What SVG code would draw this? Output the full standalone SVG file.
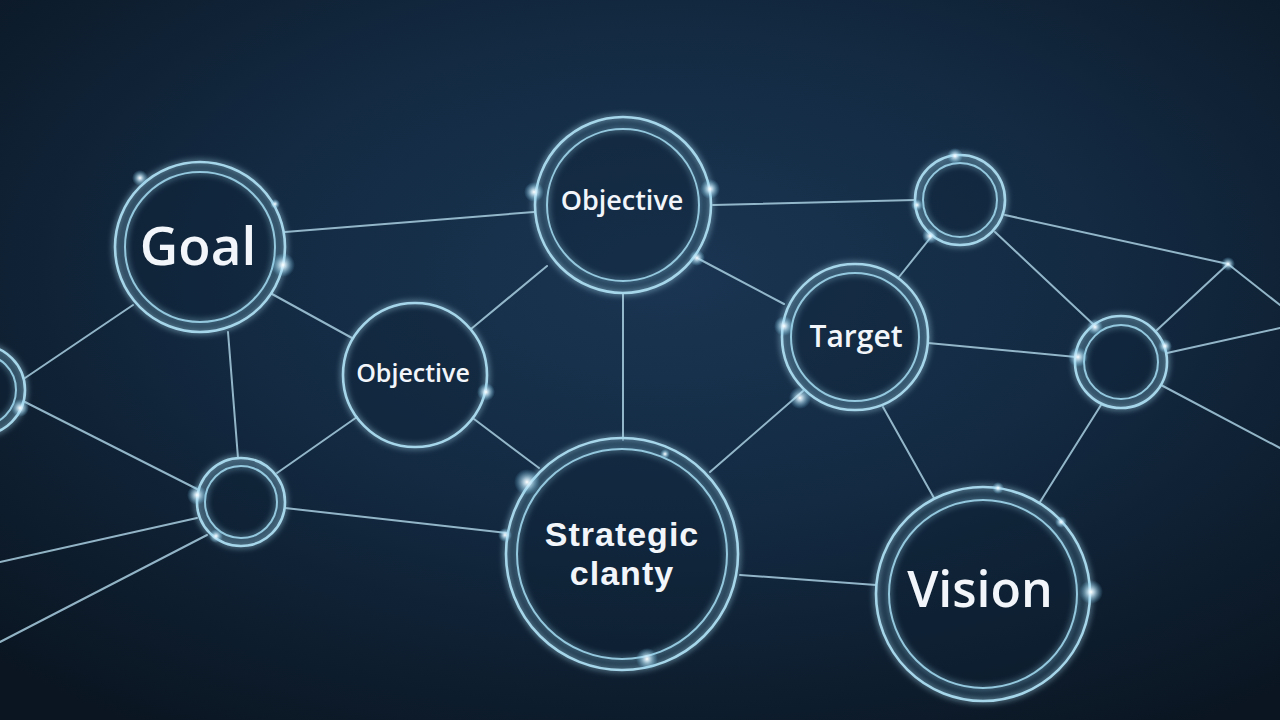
<svg xmlns="http://www.w3.org/2000/svg" width="1280" height="720" viewBox="0 0 1280 720">
  <defs>
    <radialGradient id="bg" cx="52%" cy="38%" r="75%">
      <stop offset="0" stop-color="#1a3552"/>
      <stop offset="0.45" stop-color="#132a42"/>
      <stop offset="1" stop-color="#0a1521"/>
    </radialGradient>
    <radialGradient id="spark" cx="50%" cy="50%" r="50%">
      <stop offset="0" stop-color="#ffffff" stop-opacity="1"/>
      <stop offset="0.25" stop-color="#d8f2ff" stop-opacity="0.8"/>
      <stop offset="1" stop-color="#6cc4ea" stop-opacity="0"/>
    </radialGradient>
    <filter id="glow" x="-30%" y="-30%" width="160%" height="160%">
      <feGaussianBlur in="SourceGraphic" stdDeviation="3" result="b"/>
      <feMerge>
        <feMergeNode in="b"/>
        <feMergeNode in="SourceGraphic"/>
      </feMerge>
    </filter>
    <style>
      .edge { stroke: #a9cfe0; stroke-width: 2; stroke-opacity: 0.85; fill: none; stroke-linecap: round; }
      .outer { fill: none; stroke: #a6d6ea; stroke-width: 2.6; }
      .inner { fill: none; stroke: #93c8de; stroke-width: 2; }
      .band { fill: none; stroke: #5fa6c8; stroke-opacity: 0.12; }
      .core { fill: #0f2136; fill-opacity: 0.35; }
      .lbl { font-family: "Open Sans", "Liberation Sans", sans-serif; font-weight: 600; fill: #f2f6fa; text-anchor: middle; }
      .lbl2 { font-family: "Liberation Sans", Arial, sans-serif; font-weight: 700; fill: #f2f6fa; text-anchor: middle; letter-spacing: 1px; }
      .sp { fill: url(#spark); }
    </style>
  </defs>

  <rect width="1280" height="720" fill="url(#bg)"/>

  <g id="connectors">
    <line class="edge" x1="25" y1="378" x2="133" y2="305"/>
    <line class="edge" x1="25" y1="402" x2="197" y2="489"/>
    <line class="edge" x1="228" y1="332" x2="238" y2="458"/>
    <line class="edge" x1="285" y1="232" x2="534" y2="212"/>
    <line class="edge" x1="272" y1="294" x2="352" y2="338"/>
    <line class="edge" x1="277" y1="473" x2="357" y2="417"/>
    <line class="edge" x1="285" y1="508" x2="507" y2="533"/>
    <line class="edge" x1="197" y1="518" x2="0" y2="562"/>
    <line class="edge" x1="207" y1="535" x2="0" y2="642"/>
    <line class="edge" x1="471" y1="329" x2="547" y2="266"/>
    <line class="edge" x1="474" y1="419" x2="539" y2="468"/>
    <line class="edge" x1="623" y1="293" x2="623" y2="440"/>
    <line class="edge" x1="713" y1="205" x2="915" y2="200"/>
    <line class="edge" x1="699" y1="259" x2="784" y2="304"/>
    <line class="edge" x1="710" y1="472" x2="803" y2="391"/>
    <line class="edge" x1="740" y1="575" x2="876" y2="585"/>
    <line class="edge" x1="899" y1="277" x2="931" y2="237"/>
    <line class="edge" x1="928" y1="343" x2="1076" y2="357"/>
    <line class="edge" x1="883" y1="407" x2="934" y2="498"/>
    <line class="edge" x1="995" y1="232" x2="1094" y2="325"/>
    <line class="edge" x1="1005" y1="215" x2="1228" y2="264"/>
    <line class="edge" x1="1228" y1="264" x2="1157" y2="330"/>
    <line class="edge" x1="1228" y1="264" x2="1280" y2="305"/>
    <line class="edge" x1="1167" y1="353" x2="1280" y2="328"/>
    <line class="edge" x1="1161" y1="385" x2="1280" y2="448"/>
    <line class="edge" x1="1101" y1="405" x2="1040" y2="502"/>
  </g>

  <g id="node-left-edge">
    <circle class="core" cx="-20" cy="390" r="44"/>
    <circle class="band" cx="-20" cy="390" r="40" stroke-width="8"/>
    <g filter="url(#glow)">
      <circle class="outer" cx="-20" cy="390" r="45"/>
      <circle class="inner" cx="-20" cy="390" r="36"/>
    </g>
    <circle class="sp" cx="20" cy="408" r="9"/>
  </g>

  <g id="node-goal">
    <circle class="core" cx="200" cy="247" r="84"/>
    <circle class="band" cx="200" cy="247" r="80" stroke-width="9"/>
    <g filter="url(#glow)">
      <circle class="outer" cx="200" cy="247" r="85"/>
      <circle class="inner" cx="200" cy="247" r="75"/>
    </g>
    <circle class="sp" cx="283" cy="265" r="12"/>
    <circle class="sp" cx="275" cy="204" r="5"/>
    <circle class="sp" cx="140" cy="178" r="8"/>
    <text class="lbl" x="198" y="265" font-size="53">Goal</text>
  </g>

  <g id="node-objective-small">
    <circle class="core" cx="415" cy="375" r="71"/>
    <g filter="url(#glow)">
      <circle class="outer" cx="415" cy="375" r="72" stroke-width="2.2"/>
    </g>
    <circle class="sp" cx="486" cy="392" r="9"/>
    <text class="lbl" x="413" y="382" font-size="25">Objective</text>
  </g>

  <g id="node-objective-top">
    <circle class="core" cx="623" cy="205" r="87"/>
    <circle class="band" cx="623" cy="205" r="82" stroke-width="11"/>
    <g filter="url(#glow)">
      <circle class="outer" cx="623" cy="205" r="88"/>
      <circle class="inner" cx="623" cy="205" r="76"/>
    </g>
    <circle class="sp" cx="534" cy="192" r="10"/>
    <circle class="sp" cx="710" cy="189" r="10"/>
    <circle class="sp" cx="697" cy="258" r="8"/>
    <text class="lbl" x="622" y="210" font-size="27">Objective</text>
  </g>

  <g id="node-target">
    <circle class="core" cx="855" cy="337" r="72"/>
    <circle class="band" cx="855" cy="337" r="68" stroke-width="8"/>
    <g filter="url(#glow)">
      <circle class="outer" cx="855" cy="337" r="73"/>
      <circle class="inner" cx="855" cy="337" r="64"/>
    </g>
    <circle class="sp" cx="784" cy="326" r="10"/>
    <circle class="sp" cx="800" cy="398" r="11"/>
    <text class="lbl" x="856" y="347" font-size="30">Target</text>
  </g>

  <g id="node-top-right">
    <circle class="core" cx="960" cy="200" r="44"/>
    <circle class="band" cx="960" cy="200" r="41" stroke-width="8"/>
    <g filter="url(#glow)">
      <circle class="outer" cx="960" cy="200" r="45"/>
      <circle class="inner" cx="960" cy="200" r="37"/>
    </g>
    <circle class="sp" cx="955" cy="156" r="8"/>
    <circle class="sp" cx="930" cy="236" r="8"/>
    <circle class="sp" cx="917" cy="205" r="6"/>
  </g>

  <g id="node-point">
    <circle class="sp" cx="1228" cy="264" r="7"/>
  </g>

  <g id="node-right">
    <circle class="core" cx="1121" cy="362" r="45"/>
    <circle class="band" cx="1121" cy="362" r="41" stroke-width="8"/>
    <g filter="url(#glow)">
      <circle class="outer" cx="1121" cy="362" r="46"/>
      <circle class="inner" cx="1121" cy="362" r="37"/>
    </g>
    <circle class="sp" cx="1078" cy="357" r="10"/>
    <circle class="sp" cx="1095" cy="327" r="8"/>
    <circle class="sp" cx="1165" cy="346" r="7"/>
  </g>

  <g id="node-bottom-left">
    <circle class="core" cx="241" cy="502" r="43"/>
    <circle class="band" cx="241" cy="502" r="40" stroke-width="8"/>
    <g filter="url(#glow)">
      <circle class="outer" cx="241" cy="502" r="44"/>
      <circle class="inner" cx="241" cy="502" r="36"/>
    </g>
    <circle class="sp" cx="197" cy="495" r="10"/>
    <circle class="sp" cx="216" cy="536" r="7"/>
  </g>

  <g id="node-strategic">
    <circle class="core" cx="622" cy="554" r="115"/>
    <circle class="band" cx="622" cy="554" r="110" stroke-width="10"/>
    <g filter="url(#glow)">
      <circle class="outer" cx="622" cy="554" r="116"/>
      <circle class="inner" cx="622" cy="554" r="105"/>
    </g>
    <circle class="sp" cx="527" cy="482" r="13"/>
    <circle class="sp" cx="647" cy="659" r="11"/>
    <circle class="sp" cx="665" cy="454" r="5"/>
    <circle class="sp" cx="505" cy="535" r="7"/>
    <text class="lbl2" font-size="34"><tspan x="622" y="546">Strategic</tspan><tspan x="622" y="585">clanty</tspan></text>
  </g>

  <g id="node-vision">
    <circle class="core" cx="983" cy="594" r="106"/>
    <circle class="band" cx="983" cy="594" r="100" stroke-width="12"/>
    <g filter="url(#glow)">
      <circle class="outer" cx="983" cy="594" r="107"/>
      <circle class="inner" cx="983" cy="594" r="94"/>
    </g>
    <circle class="sp" cx="1091" cy="592" r="12"/>
    <circle class="sp" cx="998" cy="488" r="6"/>
    <circle class="sp" cx="1061" cy="522" r="6"/>
    <text class="lbl" x="980" y="607" font-size="50">Vision</text>
  </g>
</svg>
